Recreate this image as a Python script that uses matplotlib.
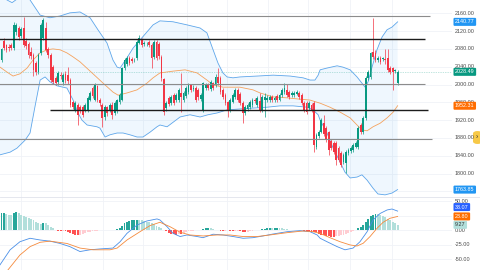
import matplotlib
matplotlib.use("Agg")
import matplotlib.pyplot as plt
import matplotlib.transforms as mtransforms
from matplotlib.patches import FancyBboxPatch
import numpy as np

plt.rcParams['font.family'] = ['Liberation Sans', 'DejaVu Sans']

# OHLC candles
opens = [2055, 2098, 2088, 2084, 2089, 2082, 2118, 2127, 2108, 2126,
         2098, 2092, 2074, 2066, 2048, 2028, 2071, 2104, 2127, 2080,
         2066, 2040, 2015, 2006, 2022, 2006, 2024, 2022, 2010, 1960,
         1943, 1954, 1949, 1949, 1943, 1943, 1966, 1992, 1966, 1996,
         1965, 1954, 1927, 1949, 1943, 1954, 1936, 1940, 1961, 1965,
         2037, 2046, 2060, 2057, 2054, 2060, 2094, 2100, 2092, 2090,
         2096, 2089, 2062, 2096, 2090, 2062, 2013, 1947, 1970, 1958,
         1976, 1965, 1965, 1981, 1965, 1974, 1983, 1999, 1990, 1992,
         1988, 1968, 1943, 1992, 1999, 1990, 2003, 1999, 2017, 2015,
         1988, 1976, 1960, 1943, 1961, 1972, 1988, 1979, 1958, 1936,
         1945, 1949, 1954, 1966, 1954, 1963, 1943, 1965, 1965, 1965,
         1972, 1965, 1974, 1965, 1976, 1983, 1988, 1983, 1976, 1976,
         1979, 1981, 1976, 1958, 1958, 1947, 1954, 1958, 1860, 1885,
         1894, 1914, 1902, 1893, 1873, 1869, 1869, 1857, 1846, 1826,
         1824, 1846, 1851, 1853, 1860, 1860, 1909, 1893, 1925, 2015,
         2017, 2073, 2071, 2055, 2060, 2057, 2057, 2060, 2037, 2037,
         2030, 2003]
closes = [2080, 2082, 2078, 2082, 2082, 2133, 2134, 2106, 2125, 2089,
          2086, 2066, 2064, 2033, 2028, 2066, 2134, 2145, 2078, 2066,
          2010, 2006, 2003, 2026, 2020, 2021, 2010, 2008, 1954, 1949,
          1958, 1931, 1943, 1931, 1954, 1970, 1981, 1974, 1999, 1965,
          1958, 1925, 1949, 1936, 1954, 1931, 1958, 1965, 1976, 2037,
          2055, 2060, 2048, 2053, 2056, 2096, 2104, 2089, 2093, 2091,
          2089, 2060, 2096, 2060, 2064, 2015, 1938, 1958, 1956, 1972,
          1958, 1976, 1988, 1972, 1981, 1992, 1999, 1988, 1993, 1965,
          1972, 1976, 2003, 1999, 1992, 2006, 1992, 2017, 2003, 1983,
          1972, 1958, 1943, 1965, 1976, 1988, 1965, 1958, 1936, 1949,
          1954, 1961, 1965, 1962, 1970, 1943, 1972, 1972, 1970, 1972,
          1965, 1970, 1965, 1976, 1988, 1992, 1976, 1972, 1981, 1981,
          1983, 1972, 1958, 1943, 1938, 1958, 1943, 1864, 1887, 1894,
          1920, 1889, 1875, 1853, 1857, 1848, 1830, 1830, 1819, 1842,
          1848, 1853, 1857, 1864, 1869, 1902, 1893, 1925, 2015, 2028,
          2071, 2062, 2055, 2059, 2051, 2058, 2055, 2033, 2028, 2028,
          2031, 2028.49]
highs = [2082, 2104, 2092, 2090, 2094, 2140, 2138, 2132, 2130, 2152,
         2104, 2096, 2084, 2070, 2052, 2070, 2138, 2149, 2140, 2084,
         2070, 2044, 2018, 2030, 2028, 2026, 2030, 2040, 2014, 1964,
         1962, 1958, 1954, 1954, 1958, 1974, 1986, 1996, 2004, 2000,
         1970, 1958, 1954, 1952, 1958, 1960, 1962, 1968, 1980, 2040,
         2060, 2064, 2064, 2062, 2060, 2100, 2112, 2104, 2098, 2096,
         2100, 2094, 2100, 2100, 2096, 2066, 2015, 1962, 1974, 1976,
         1980, 1980, 1992, 2026, 1986, 1996, 2004, 2002, 1998, 1996,
         1992, 1982, 2006, 2004, 2003, 2010, 2006, 2024, 2037, 2020,
         1992, 1980, 1964, 1970, 1980, 1992, 1992, 1984, 1962, 1954,
         1958, 1965, 1970, 1970, 1974, 1981, 1976, 1980, 1976, 1976,
         1976, 1974, 1978, 1980, 1992, 2003, 2001, 1988, 1985, 1985,
         1988, 1986, 1980, 1962, 1962, 1962, 1958, 1962, 1892, 1898,
         1925, 1931, 1906, 1896, 1878, 1873, 1873, 1862, 1850, 1846,
         1853, 1857, 1862, 1869, 1873, 1906, 1914, 1929, 2020, 2033,
         2073, 2149, 2078, 2064, 2064, 2062, 2080, 2080, 2042, 2040,
         2035, 2033]
lows = [2050, 2078, 2074, 2076, 2078, 2078, 2112, 2100, 2104, 2085,
        2080, 2060, 2058, 2018, 2022, 2024, 2066, 2100, 2074, 2060,
        2006, 2002, 1998, 2000, 2012, 2000, 2004, 2002, 1950, 1944,
        1938, 1909, 1936, 1926, 1938, 1938, 1962, 1970, 1962, 1960,
        1952, 1904, 1920, 1930, 1938, 1922, 1932, 1936, 1956, 1962,
        2032, 2042, 2044, 2048, 2050, 2056, 2090, 2084, 2086, 2086,
        2084, 2037, 2058, 2055, 2058, 2008, 1932, 1940, 1952, 1954,
        1954, 1960, 1960, 1938, 1960, 1970, 1978, 1984, 1986, 1960,
        1966, 1964, 1938, 1988, 1988, 1986, 1988, 1994, 2000, 1978,
        1968, 1954, 1927, 1938, 1958, 1968, 1960, 1954, 1913, 1931,
        1940, 1945, 1950, 1958, 1950, 1938, 1938, 1927, 1961, 1961,
        1961, 1961, 1961, 1962, 1972, 1979, 1972, 1968, 1972, 1972,
        1976, 1968, 1954, 1938, 1934, 1943, 1938, 1848, 1855, 1880,
        1890, 1884, 1870, 1842, 1852, 1844, 1819, 1826, 1815, 1822,
        1801, 1842, 1846, 1849, 1857, 1855, 1889, 1889, 1920, 2010,
        2012, 2058, 2050, 2050, 2046, 2052, 2046, 2028, 2024, 1988,
        2026, 2000]

# Bollinger bands (sampled along the candle index)
bb_upper_idx = [-0.6, 2.2, 4.3, 6.3, 9.1, 11.6, 15.7, 19.7, 23.8, 27.8, 31.9,
                36.0, 39.2, 42.9, 45.3, 47.0, 48.2, 51.0, 53.5, 56.3, 59.1,
                61.6, 64.4, 69.7, 75.4, 80.7, 83.5, 86.0, 88.0, 90.0, 91.7,
                94.1, 96.9, 103.9, 110.4, 117.3, 122.6, 125.4, 127.4, 128.7,
                129.5, 132.3, 136.4, 138.8, 141.7, 144.5, 146.5, 147.8, 149.0,
                150.6, 152.6, 154.7, 156.7, 158.7, 161.0]
bb_upper = [2215, 2190, 2184, 2192, 2205, 2190, 2156, 2150, 2154, 2161, 2163,
            2150, 2123, 2093, 2055, 2039, 2037, 2060, 2082, 2100, 2118,
            2134, 2143, 2141, 2134, 2127, 2116, 2078, 2048, 2026, 2017,
            2015, 2017, 2019, 2021, 2019, 2015, 2010, 2010, 2021,
            2033, 2037, 2042, 2039, 2033, 2017, 2003, 1994, 2006,
            2039, 2078, 2107, 2123, 2129, 2140.77]
bb_lower_idx = [-0.6, 3.5, 6.3, 9.6, 11.6, 13.6, 15.7, 17.7, 19.7, 22.6, 26.6,
                29.1, 31.1, 32.7, 34.8, 38.8, 40.0, 42.1, 44.1, 47.0, 49.4,
                52.2, 55.1, 57.5, 60.4, 63.2, 64.4, 67.3, 72.6, 76.6, 80.7,
                83.9, 87.6, 91.7, 96.9, 102.2, 107.9, 113.2, 118.5, 124.2,
                126.6, 128.7, 129.5, 132.3, 134.8, 137.6, 139.6, 141.7, 144.5,
                146.5, 148.6, 151.0, 153.0, 155.9, 158.7, 161.0]
bb_lower = [1842, 1848, 1857, 1875, 1891, 1950, 2010, 2017, 2006, 1997, 1992,
            1965, 1936, 1920, 1909, 1905, 1902, 1882, 1887, 1891, 1891,
            1887, 1882, 1882, 1893, 1905, 1909, 1905, 1927, 1932, 1927,
            1932, 1936, 1943, 1945, 1947, 1949, 1952, 1952, 1949,
            1943, 1932, 1920, 1891, 1857, 1826, 1803, 1790, 1792,
            1797, 1785, 1767, 1754, 1752, 1756, 1763.85]
bb_mid_idx = [-0.6, 2.2, 4.7, 7.5, 10.4, 12.8, 15.7, 18.5, 20.9, 23.8, 26.6,
              29.1, 31.9, 37.2, 41.3, 45.3, 47.4, 51.0, 55.1, 59.1, 61.6,
              64.4, 69.7, 74.6, 79.5, 83.5, 86.0, 90.0, 96.9, 102.2, 105.1,
              110.4, 116.1, 121.3, 125.4, 129.5, 133.5, 137.6, 141.7, 144.5,
              146.5, 148.6, 151.0, 153.9, 156.7, 159.2, 161.0]
bb_mid = [2039, 2028, 2019, 2024, 2037, 2055, 2071, 2078, 2080, 2078, 2071,
          2062, 2051, 2024, 2003, 1983, 1976, 1981, 1988, 2003, 2015,
          2026, 2030, 2033, 2026, 2010, 1999, 1994, 1994, 1988, 1981,
          1972, 1970, 1967, 1965, 1958, 1949, 1938, 1925, 1909,
          1898, 1896, 1905, 1913, 1925, 1938, 1952.31]

# MACD
macd_hist = [29, 30, 28, 27, 26, 30, 31, 29, 27, 25,
             23, 21, 19, 17, 15, 13, 11, 12.5, 12, 9,
             6, 3, 0.5, -1, -1.5, -1, -2, -3, -5, -7,
             -8, -8.5, -8, -6, -5, -3, -2.5, -2, -1.5, -1,
             -0.5, -0.5, 0.5, -0.3, 0.3, 0.5, 1, 2, 4, 8,
             12, 14, 16, 17, 18, 18.5, 18, 17, 16, 15,
             14, 12, 10, 8, 6, 3, 1, -2, -5, -7,
             -7, -8, -6, -6, -5, -3, -2, -1.5, -1, -0.5,
             -0.5, 1, 2, 3, 3.5, 3, 2, 1, -0.5, -1,
             -1.5, -1, -0.5, -1, -2, -1.5, -1, -2, -3, -3.5,
             -3, -2, -1, -0.5, 0.5, 1, 1.5, 2, 3, 3.5,
             3, 3.5, 4, 3.5, 3, 2.5, 2, 1, 0.5, 0.5,
             -0.5, 0.5, -0.5, -1, -1.5, -2, -2.5, -3, -3, -6,
             -8, -9, -10, -10.5, -11, -11, -10.5, -10, -9, -8,
             -6.5, -5, -3, -1, 1, 3, 5, 9, 14, 19,
             24, 27, 28.5, 28, 27, 25, 22, 20, 17, 14,
             12, 9.27]
macd_idx = [-0.6, 3.5, 7.5, 11.6, 15.7, 19.7, 23.8, 27.8, 31.9, 36.0, 40.0,
            45.3, 48.2, 51.0, 55.1, 59.1, 63.2, 64.4, 67.3, 69.7, 72.6,
            75.4, 79.5, 81.9, 86.0, 90.0, 94.1, 98.2, 102.2, 106.3, 110.4,
            116.1, 121.3, 125.4, 128.3, 129.5, 132.3, 136.4, 139.6, 142.9,
            145.7, 148.6, 151.0, 153.9, 156.7, 158.7, 161.0]
macd_line = [-60, -34, -20, -14, -17, -19, -23, -28.5, -37, -34, -32.5,
             -31, -20, -5.5, 9, 16, 19.5, 17.7, 6, -5.5, -11,
             -8.3, -11, -13, -7, -8.3, -11, -14, -13, -10, -6.6,
             -2.6, -0.8, -2.6, -8.3, -14, -20, -28.5, -34, -31,
             -20, -2.6, 17.7, 29, 35, 36.7, 33.07]
signal_idx = [2.6, 7.5, 11.6, 15.7, 19.7, 26.6, 31.9, 37.2, 44.1, 47.0, 51.0,
              56.3, 60.4, 64.4, 68.5, 72.6, 76.6, 82.0, 87.6, 92.9, 98.2,
              103.9, 109.1, 116.1, 122.6, 126.6, 129.5, 133.5, 137.6, 141.7,
              144.5, 147.0, 149.8, 152.6, 155.1, 157.9, 161.0]
signal_line = [-69, -43, -28.5, -21, -19, -23, -31, -34, -34, -31, -17,
               -2.6, 8, 13.7, 6, -3.6, -8.3, -10, -8.3, -8.3, -11,
               -11, -8.3, -4.3, -1.4, -2.6, -5.5, -13, -20, -25.6,
               -27.4, -22.7, -11, 3.2, 13.7, 20.6, 23.8]

# horizontal levels drawn on the chart: price, start index, end index, style
level_prices = [2154, 2102, 2001, 1943, 1878]
level_start = [-1, -1, -1, 19.7, -1]
level_end = [174.2, 172.2, 172.2, 173.2, 175.0]
level_dark = [False, True, False, True, False]

price_ticks = [2160, 2120, 2080, 2040, 2000, 1960, 1920, 1880, 1840, 1800, 1760]
macd_ticks = [50, 25, 0, -25, -50]
grid_idx = [7.9, 24.6, 41.3, 57.5, 75.4, 91.7, 108.3, 124.6, 141.7, 158.7]

UP, DOWN = '#089981', '#f23645'
BAND = '#5ea6ea'
BASIS = '#f5a25d'

W, H = 480, 270
fig = plt.figure(figsize=(W / 100, H / 100), dpi=100)
ax = fig.add_axes([0, 1 - 197 / H, 452 / W, 197 / H])
axm = fig.add_axes([0, 0, 452 / W, 73 / H])

for a in (ax, axm):
    for s in a.spines.values():
        s.set_visible(False)
    a.set_xlim(-0.61, 183.1)
    a.set_xticks(grid_idx)
    a.tick_params(length=0, labelbottom=False, labelleft=False)
    a.grid(True, color='#f0f2f7', lw=0.6)
    a.set_axisbelow(True)

ax.set_ylim(1747.2, 2189.9)
ax.set_yticks(price_ticks)
axm.set_ylim(-69, 57.5)
axm.set_yticks(macd_ticks)

# bollinger fill + lines
ax.fill(np.concatenate([bb_upper_idx, bb_lower_idx[::-1]]),
        np.concatenate([bb_upper, bb_lower[::-1]]),
        color='#2196f3', alpha=0.07, lw=0, zorder=1)
ax.plot(bb_upper_idx, bb_upper, color=BAND, lw=0.6, zorder=2)
ax.plot(bb_lower_idx, bb_lower, color=BAND, lw=0.6, zorder=2)
ax.plot(bb_mid_idx, bb_mid, color=BASIS, lw=0.6, zorder=2)

# level lines
for p, x0, x1, dark in zip(level_prices, level_start, level_end, level_dark):
    ax.hlines(p, x0, x1, colors='#1c1c1c' if dark else '#8c8c8c',
              lw=1.0 if dark else 0.8, zorder=5)

# last price line
ax.axhline(closes[-1], color=UP, lw=0.5, ls=(0, (1, 1.5)), alpha=0.5, zorder=1)

# candles
o, hi, lo, c = map(np.array, (opens, highs, lows, closes))
x = np.arange(len(c))
col = np.where(c >= o, UP, DOWN)
ax.vlines(x, lo, hi, colors=col, lw=0.5, zorder=3)
ax.bar(x, np.maximum(np.abs(c - o), 1.5), bottom=np.minimum(o, c), width=0.72,
       color=col, lw=0, zorder=4)

# MACD histogram colours from direction
hist = np.array(macd_hist)
prev = np.concatenate([[hist[0]], hist[:-1]])
hcol = np.where(hist >= 0, np.where(hist >= prev, '#26a69a', '#b2dfdb'),
                np.where(hist <= prev, '#ff5252', '#ffcdd2'))
axm.bar(x, hist, width=0.78, color=hcol, lw=0, zorder=2)
axm.plot(macd_idx, macd_line, color='#4a8fe7', lw=0.6, zorder=3)
axm.plot(signal_idx, signal_line, color='#f58a3c', lw=0.6, zorder=3)

# pane separator
fig.add_artist(plt.Line2D([0, 1], [1 - 197 / H] * 2, color='#e0e3eb', lw=0.6))

# price scale labels
fs = 3.9
tr_main = mtransforms.blended_transform_factory(fig.transFigure, ax.transData)
tr_macd = mtransforms.blended_transform_factory(fig.transFigure, axm.transData)
lx = 455 / W
for t in price_ticks[:-1]:
    fig.text(lx, t, f'{t:.2f}', transform=tr_main, fontsize=fs, color='#4a4a4a',
             va='center', ha='left', zorder=2)
for t in [50, 0, -25, -50]:
    fig.text(lx, t, f'{t:.2f}', transform=tr_macd, fontsize=fs, color='#4a4a4a',
             va='center', ha='left', zorder=2)

main_labels = [(bb_upper[-1], '#2196f3', 'white'), (closes[-1], UP, 'white'),
               (bb_mid[-1], '#ff6d00', 'white'), (bb_lower[-1], '#2196f3', 'white')]
for v, fc, tc in main_labels:
    fig.text(lx, v, f'{v:.2f}', transform=tr_main, fontsize=fs, color=tc,
             va='center', ha='left', zorder=6,
             bbox=dict(boxstyle='round,pad=0.28,rounding_size=0.2', fc=fc, ec='none'))

macd_labels = [(macd_line[-1], macd_line[-1] + 7, '#2962ff', 'white'),
               (signal_line[-1], signal_line[-1], '#ff6d00', 'white'),
               (macd_hist[-1], macd_hist[-1], '#b2dfdb', '#333333')]
for v, ypos, fc, tc in macd_labels:
    fig.text(lx, ypos, f'{v:.2f}', transform=tr_macd, fontsize=fs, color=tc,
             va='center', ha='left', zorder=6,
             bbox=dict(boxstyle='round,pad=0.28,rounding_size=0.2', fc=fc, ec='none'))

# yellow tag at the right edge
fig.add_artist(FancyBboxPatch((473 / W, 1 - 144 / H), 9 / W, 13 / H,
                              boxstyle='round,pad=0,rounding_size=0.01',
                              fc='#f7c948', ec='none', transform=fig.transFigure))
fig.text(476 / W, 1 - 137.5 / H, '›', fontsize=5, color='#333333',
         va='center', ha='left')

fig.savefig('out.png', dpi=100)
